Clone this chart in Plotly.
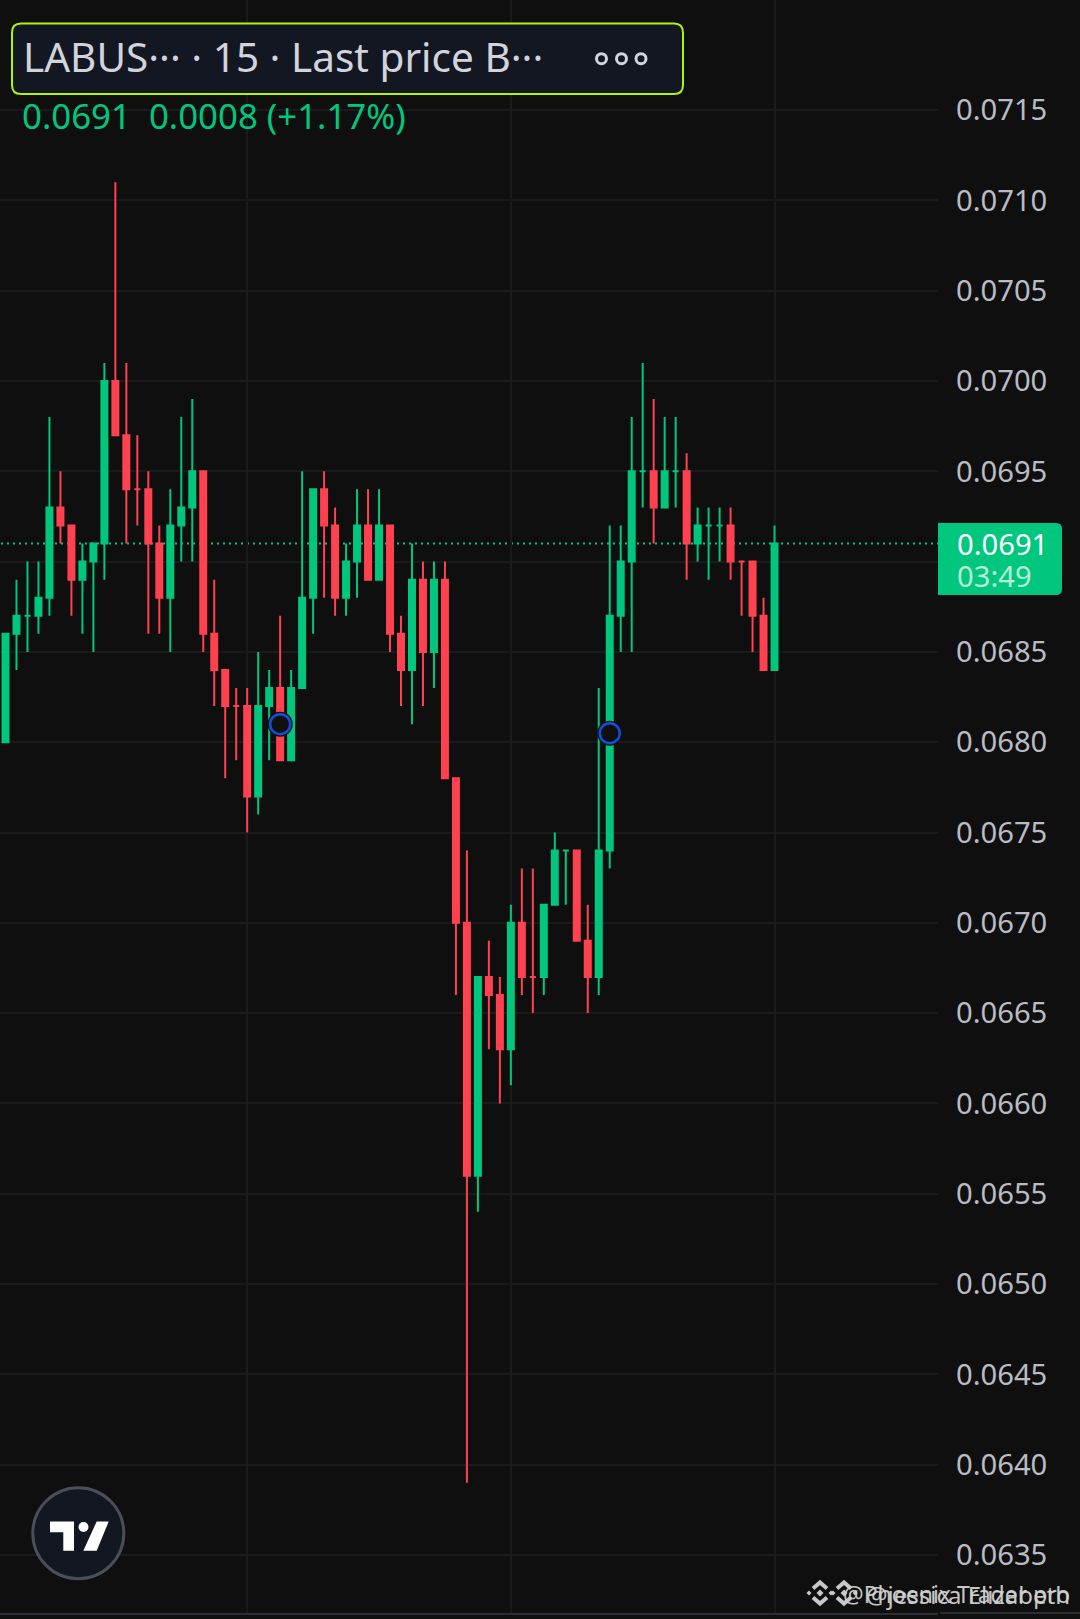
import plotly.graph_objects as go

# ---------- data (15-minute candles) ----------
candle_index = list(range(71))
open_prices = [.0680,.0686,.0687,.0687,.0688,.0693,.0692,.0689,.0690,.0691,.0700,.0697,.0694,.0694,.0691,.0688,.0692,.0693,.0695,.0686,.0684,.0682,.0682,.0677,.0682,.0683,.0679,.0683,.0688,.0694,.0692,.0688,.0690,.0692,.0689,.0692,.0686,.0684,.0689,.0685,.0689,.0678,.0670,.0656,.0667,.0666,.0663,.0670,.0667,.0667,.0671,.0674,.0674,.0669,.0667,.0674,.0687,.0690,.0695,.0695,.0693,.0695,.0695,.0691,.0692,.0692,.0692,.0690,.0690,.0687,.0684]
high_prices = [.0686,.0689,.0690,.0690,.0698,.0695,.0692,.0691,.0691,.0701,.0711,.0701,.0697,.0695,.0692,.0694,.0698,.0699,.0695,.0689,.0684,.0683,.0683,.0685,.0684,.0687,.0684,.0695,.0694,.0695,.0693,.0691,.0694,.0694,.0694,.0692,.0687,.0691,.0690,.0690,.0690,.0678,.0674,.0667,.0669,.0667,.0671,.0673,.0673,.0671,.0675,.0674,.0674,.0671,.0683,.0692,.0692,.0698,.0701,.0699,.0698,.0698,.0696,.0693,.0693,.0693,.0693,.0690,.0690,.0688,.0692]
low_prices = [.0680,.0684,.0685,.0686,.0687,.0691,.0687,.0686,.0685,.0689,.0697,.0691,.0692,.0686,.0686,.0685,.0690,.0690,.0685,.0682,.0678,.0679,.0675,.0676,.0679,.0679,.0679,.0683,.0686,.0688,.0687,.0687,.0688,.0689,.0689,.0685,.0682,.0681,.0682,.0683,.0678,.0666,.0639,.0654,.0663,.0660,.0661,.0666,.0665,.0666,.0671,.0671,.0669,.0665,.0666,.0673,.0685,.0685,.0693,.0691,.0693,.0693,.0689,.0690,.0689,.0690,.0689,.0687,.0685,.0684,.0684]
close_prices = [.0686,.0687,.0687,.0688,.0693,.0692,.0689,.0690,.0691,.0700,.0697,.0694,.0694,.0691,.0688,.0692,.0693,.0695,.0686,.0684,.0682,.0682,.0677,.0682,.0683,.0679,.0683,.0688,.0694,.0692,.0688,.0690,.0692,.0689,.0692,.0686,.0684,.0689,.0685,.0689,.0678,.0670,.0656,.0667,.0666,.0663,.0670,.0667,.0667,.0671,.0674,.0674,.0669,.0667,.0674,.0687,.0690,.0695,.0695,.0693,.0695,.0695,.0691,.0692,.0692,.0692,.0690,.0690,.0687,.0684,.0691]

price_ticks = [.0635,.0640,.0645,.0650,.0655,.0660,.0665,.0670,.0675,.0680,.0685,.0690,.0695,.0700,.0705,.0710,.0715]
# the 0.0690 label sits behind the last-price tag in the original, so it stays blank
price_labels = ["" if v == .0690 else f"{v:.4f}" for v in price_ticks]
time_grid = [22, 46, 70]
signal_x = [25, 55]
signal_y = [.0681, .06805]
last_price = .0691

title_text = "LABUS··· · 15 · Last price B···"
legend_text = "0.0691  0.0008 (+1.17%)"
tag_price = "0.0691"
tag_timer = "03:49"
mark_one = "@Phoenix Trader pro"
mark_two = "@jessica Elizabeth"

# ---------- style ----------
BG = "#0f0f0f"
GRID = "#1a1a1a"
GREEN = "#00c77d"
RED = "#ff4150"
W, H = 1080, 1619
PLOT_W, PLOT_H = 938, 1613
CANDLE_X0, CANDLE_DX = 5.5, 10.986
P700_Y, PX_PER_TICK = 381.0, 18.06


def px(x):
    return x / PLOT_W


def py(y):
    return 1 - y / PLOT_H


def path(points, close=True):
    d = "M " + " L ".join(f"{px(x):.5f},{py(y):.5f}" for x, y in points)
    return d + (" Z" if close else "")


def rounded(x0, y0, x1, y1, tl, tr, br, bl):
    a = lambda x, y: f"{px(x):.5f},{py(y):.5f}"
    d = f"M {a(x0 + tl, y0)} L {a(x1 - tr, y0)} "
    d += f"Q {a(x1, y0)} {a(x1, y0 + tr)} " if tr else ""
    d += f"L {a(x1, y1 - br)} "
    d += f"Q {a(x1, y1)} {a(x1 - br, y1)} " if br else ""
    d += f"L {a(x0 + bl, y1)} "
    d += f"Q {a(x0, y1)} {a(x0, y1 - bl)} " if bl else ""
    d += f"L {a(x0, y0 + tl)} "
    d += f"Q {a(x0, y0)} {a(x0 + tl, y0)} " if tl else ""
    return d + "Z"


def circle(cx, cy, r, fill, line="rgba(0,0,0,0)", lw=0):
    return dict(type="circle", xref="paper", yref="paper", x0=px(cx - r), x1=px(cx + r),
                y0=py(cy + r), y1=py(cy - r), fillcolor=fill, line=dict(color=line, width=lw))


def shape_path(d, fill, line="rgba(0,0,0,0)", lw=0):
    return dict(type="path", xref="paper", yref="paper", path=d, fillcolor=fill,
                line=dict(color=line, width=lw))


def text(x, y, s, size, color, anchor="left", opacity=1.0):
    return dict(xref="paper", yref="paper", x=px(x), y=py(y), text=s, showarrow=False,
                xanchor=anchor, yanchor="middle", opacity=opacity,
                font=dict(family="Noto Sans", size=size, color=color), borderpad=0)


def binance(cx, cy, color):
    return [
        shape_path(path([(cx - 7, cy - 4.5), (cx, cy - 10.5), (cx + 7, cy - 4.5)], False),
                   "rgba(0,0,0,0)", color, 4),
        shape_path(path([(cx - 7, cy + 4.5), (cx, cy + 10.5), (cx + 7, cy + 4.5)], False),
                   "rgba(0,0,0,0)", color, 4),
        shape_path(path([(cx, cy - 3.5), (cx + 3.5, cy), (cx, cy + 3.5), (cx - 3.5, cy)]), color),
        shape_path(path([(cx - 11, cy - 2.5), (cx - 8.5, cy), (cx - 11, cy + 2.5), (cx - 13.5, cy)]), color),
        shape_path(path([(cx + 11, cy - 2.5), (cx + 13.5, cy), (cx + 11, cy + 2.5), (cx + 8.5, cy)]), color),
    ]


fig = go.Figure()
fig.add_trace(go.Candlestick(
    x=candle_index, open=open_prices, high=high_prices, low=low_prices, close=close_prices,
    whiskerwidth=0, hoverinfo="skip",
    increasing=dict(line=dict(color=GREEN, width=2), fillcolor=GREEN),
    decreasing=dict(line=dict(color=RED, width=2), fillcolor=RED),
))
fig.add_trace(go.Scatter(x=signal_x, y=signal_y, mode="markers", hoverinfo="skip", showlegend=False,
                         marker=dict(size=25, color=BG, line=dict(width=0))))
fig.add_trace(go.Scatter(x=signal_x, y=signal_y, mode="markers", hoverinfo="skip", showlegend=False,
                         marker=dict(size=20, color=BG, line=dict(width=2.5, color="#0f4fdc"))))

LOGO_Y = 1.5
shapes = [
    dict(type="line", xref="paper", yref="y", x0=px(1), x1=1, y0=last_price, y1=last_price, layer="between",
         line=dict(color=GREEN, width=2, dash="2px,4px")),
    # title box
    shape_path(rounded(12, 23.5, 683, 94, 9, 9, 9, 9), "#131722", "#b2f500", 2),
    circle(601.5, 58.7, 5, "rgba(0,0,0,0)", "#d1d4dc", 3),
    circle(621.5, 58.7, 5, "rgba(0,0,0,0)", "#d1d4dc", 3),
    circle(641, 58.7, 5, "rgba(0,0,0,0)", "#d1d4dc", 3),
    # last price tag
    shape_path(rounded(938, 523, 1062, 595, 0, 6, 6, 0), GREEN),
    # logo
    circle(78.3, 1531.7 + LOGO_Y, 45.5, "#131722", "#4a4e59", 3),
    shape_path(path([(50, 1520 + LOGO_Y), (74, 1520 + LOGO_Y), (74, 1549.3 + LOGO_Y), (63.3, 1549.3 + LOGO_Y),
                     (63.3, 1530.7 + LOGO_Y), (50, 1530.7 + LOGO_Y)]), "#ffffff"),
    circle(83.5, 1525.5 + LOGO_Y, 5, "#ffffff"),
    shape_path(path([(96.7, 1520 + LOGO_Y), (108.7, 1520 + LOGO_Y), (96.7, 1549.3 + LOGO_Y), (83.3, 1549.3 + LOGO_Y)]), "#ffffff"),
    # lower edge of the price axis
    dict(type="line", xref="paper", yref="paper", x0=px(940), x1=px(W), y0=py(1613), y1=py(1613),
         line=dict(color="#2a2e39", width=2)),
]
shapes += binance(820, 1593, "#c8c8c8") + binance(844, 1593, "#c8c8c8")

annotations = [
    text(22, 57, title_text, 40.5, "#d1d4dc"),
    text(21, 116, legend_text, 34.8, GREEN),
    text(956, 544, tag_price, 29.2, "#ffffff"),
    text(956, 576, tag_timer, 29.2, "#ffffff", opacity=.7),
    text(842, 1594, mark_one, 23, "#d0d0d0", opacity=.95),
    text(865, 1594, mark_two, 24, "#d0d0d0", opacity=.95),
]

price_at = lambda y: .0700 + (P700_Y - y) / PX_PER_TICK * .0001
fig.update_layout(
    width=W, height=H, autosize=False, showlegend=False,
    margin=dict(l=0, r=W - PLOT_W, t=0, b=H - PLOT_H, pad=0),
    paper_bgcolor=BG, plot_bgcolor=BG, boxgap=0.455, boxgroupgap=0, dragmode=False,
    shapes=shapes, annotations=annotations,
    xaxis=dict(range=[-CANDLE_X0 / CANDLE_DX, (PLOT_W - CANDLE_X0) / CANDLE_DX], rangeslider=dict(visible=False),
               tickmode="array", tickvals=time_grid, showticklabels=False, ticks="", zeroline=False,
               showgrid=True, gridcolor=GRID, gridwidth=2, showline=True, linecolor="#2a2e39", linewidth=2),
    yaxis=dict(range=[price_at(PLOT_H), price_at(0)], side="right", tickmode="array", tickvals=price_ticks,
               ticktext=price_labels, ticks="", ticklabelstandoff=17, zeroline=False, showline=False,
               showgrid=True, gridcolor=GRID, gridwidth=2,
               tickfont=dict(family="Noto Sans", size=29.2, color="#b9bcc4")),
)

fig.write_html("out.html", config=dict(displayModeBar=False, staticPlot=True),
               post_script="document.body.style.margin='0';document.documentElement.style.overflow='hidden';")
